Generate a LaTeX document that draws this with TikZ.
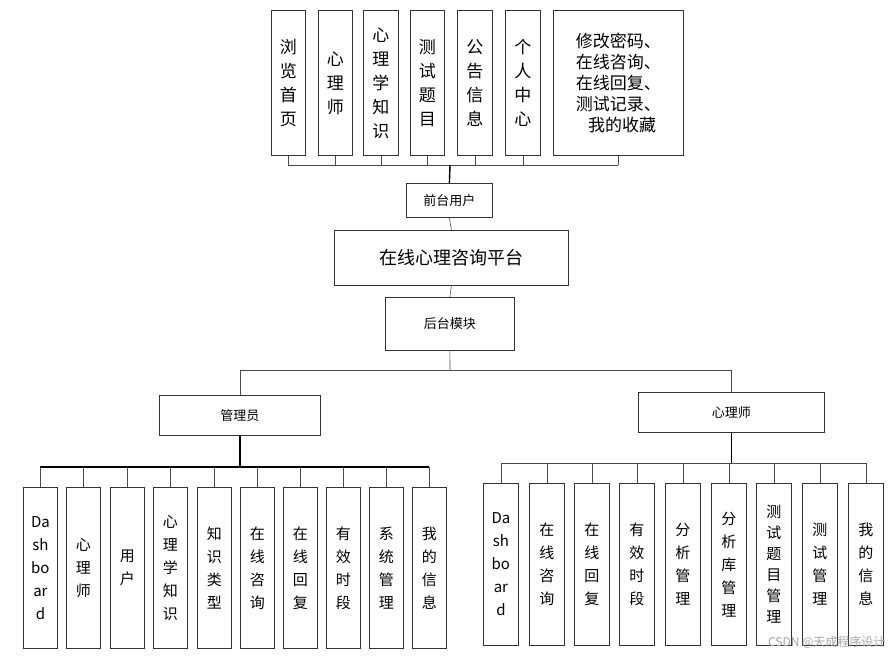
\documentclass[tikz,border=0pt]{standalone}
\usepackage{fontspec}
\setmainfont{Noto Sans CJK SC}
\begin{document}
\begin{tikzpicture}[x=1pt,y=-1pt,
  bx/.style={draw=black!80,line width=0.8pt,fill=white,inner sep=0pt,align=center},
  ln/.style={draw=black!70,line width=0.6pt},
  th/.style={draw=black,line width=1.4pt}]
\useasboundingbox (0,0) rectangle (892,656);
% top row
\foreach \n/\xa/\xb/\t in {t1/271/305/{浏\\览\\首\\页},t2/318/352/{心\\理\\师},t3/363/398/{心\\理\\学\\知\\识},t4/410/444/{测\\试\\题\\目},t5/457/492/{公\\告\\信\\息},t6/505/540/{个\\人\\中\\心}}{
  \node[bx,minimum width={\xb-\xa},minimum height=145,font=\fontsize{17}{24}\selectfont,anchor=north west] (\n) at (\xa,10) {\t};
}
\node[bx,minimum width=130,minimum height=145,anchor=north west,font=\fontsize{17}{21}\selectfont] (t7) at (553,10) {修改密码、\\在线咨询、\\在线回复、\\测试记录、\\\ \ 我的收藏};
\node[bx,minimum width=86,minimum height=34,anchor=north west,font=\fontsize{13}{15}\selectfont] (qt) at (406,183) {前台用户};
\node[bx,minimum width=234,minimum height=55,anchor=north west,font=\fontsize{18}{20}\selectfont] (pt) at (334,230) {在线心理咨询平台};
\node[bx,minimum width=129,minimum height=53,anchor=north west,font=\fontsize{13}{15}\selectfont] (ht) at (385,297) {后台模块};
\node[bx,minimum width=161,minimum height=40,anchor=north west,font=\fontsize{13}{15}\selectfont] (gl) at (159,395) {管理员};
\node[bx,minimum width=186,minimum height=40,anchor=north west,font=\fontsize{13}{15}\selectfont] (xl) at (638,392) {心理师};
\coordinate (tb) at (450,165);
\foreach \n in {t1,t2,t3,t4,t5,t6,t7}{\draw[ln] (\n.south) -- (\n.south |- tb);}
\draw[ln] (t1.south |- tb) -- (t7.south |- tb);
\draw[th] (tb) -- (qt.north);
\draw[ln] (qt.south) -- (pt.north);
\draw[ln] (pt.south) -- (ht.north);
\coordinate (mb) at (450,370);
\draw[ln] (ht.south) -- (mb);
\draw[ln] (gl.north) -- (gl.north |- mb) -- (xl.north |- mb) -- (xl.north);
% admin row
\foreach \n/\x/\t in {a1/23/{Da\\sh\\bo\\ar\\d},a2/66/{心\\理\\师},a3/110/{用\\户},a4/153/{心\\理\\学\\知\\识},a5/197/{知\\识\\类\\型},a6/240/{在\\线\\咨\\询},a7/283/{在\\线\\回\\复},a8/326/{有\\效\\时\\段},a9/369/{系\\统\\管\\理},a10/412/{我\\的\\信\\息}}{
  \node[bx,minimum width=34,minimum height=161,anchor=north west,font=\fontsize{15}{23}\selectfont] (\n) at (\x,487) {\t};
}
\coordinate (ab) at (240,467);
\foreach \n in {a1,a2,a3,a4,a5,a6,a7,a8,a9,a10}{\draw[ln] (\n.north) -- (\n.north |- ab);}
\draw[th] (a1.north |- ab) -- (a10.north |- ab);
\draw[th] (gl.south) -- (gl.south |- ab);
% psych row
\foreach \n/\x/\t/\ls in {b1/483/{Da\\sh\\bo\\ar\\d}/23,b2/529/{在\\线\\咨\\询}/23,b3/574/{在\\线\\回\\复}/23,b4/619/{有\\效\\时\\段}/23,b5/665/{分\\析\\管\\理}/23,b6/711/{分\\析\\库\\管\\理}/23,b7/756/{测\\试\\题\\目\\管\\理}/21,b8/802/{测\\试\\管\\理}/23,b9/848/{我\\的\\信\\息}/23}{
  \node[bx,minimum width=35,minimum height=162,anchor=north west,font=\fontsize{15}{\ls}\selectfont] (\n) at (\x,483) {\t};
}
\coordinate (bb) at (731,463);
\foreach \n in {b1,b2,b3,b4,b5,b6,b7,b8,b9}{\draw[ln] (\n.north) -- (\n.north |- bb);}
\draw[ln] (b1.north |- bb) -- (b9.north |- bb);
\draw[th] (xl.south) -- (xl.south |- bb);
\node[text=black!35,font=\fontsize{12}{14}\selectfont,anchor=south east] (wm) at (889,652) {CSDN @天成程序设计};
\end{tikzpicture}
\end{document}
